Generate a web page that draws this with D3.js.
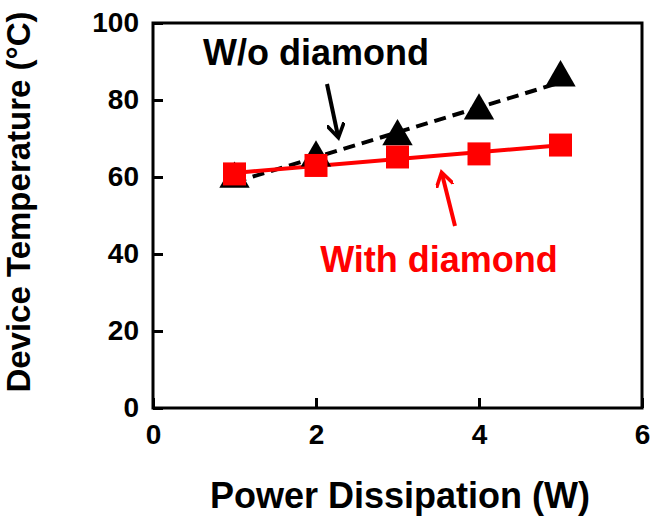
<!DOCTYPE html><html><head><meta charset="utf-8"><script src="https://cdn.jsdelivr.net/npm/d3@7"></script>
<style>body{margin:0;background:#fff}text{font-family:Arial,"Liberation Sans",sans-serif;font-weight:bold}</style></head><body>
<svg id="c" width="650" height="526"></svg>
<script>
const power=[1,2,3,4,5];
const withoutDiamond=[59.5,65,70.5,77.2,85.8];
const withDiamond=[60.8,63,65.2,66,68.3];
const xTicks=[0,2,4,6];
const yTicks=[0,20,40,60,80,100];
const svg=d3.select("#c");
const x=d3.scaleLinear().domain([0,6]).range([153,642]);
const y=d3.scaleLinear().domain([0,100]).range([408,23]);
svg.append("rect").attr("x",153).attr("y",23).attr("width",489).attr("height",385).attr("fill","none").attr("stroke","#000").attr("stroke-width",3);
svg.append("g").attr("transform","translate(0,408)").call(d3.axisBottom(x).tickValues(xTicks).tickFormat(d3.format("d")).tickSizeInner(-10).tickSizeOuter(0).tickPadding(16))
 .call(g=>{g.select(".domain").remove();g.selectAll("line").attr("stroke-width",3);g.selectAll("text").attr("font-size",28).attr("fill","#000");});
svg.append("g").attr("transform","translate(153,0)").call(d3.axisLeft(y).tickValues(yTicks).tickFormat(d3.format("d")).tickSizeInner(-10).tickSizeOuter(0).tickPadding(14))
 .call(g=>{g.select(".domain").remove();g.selectAll("line").attr("stroke-width",3);g.selectAll("text").attr("font-size",28).attr("fill","#000");});
function fit(v){const n=v.length,mx=d3.mean(power),my=d3.mean(v);let sxy=0,sxx=0;power.forEach((p,i)=>{sxy+=(p-mx)*(v[i]-my);sxx+=(p-mx)**2});const b=sxy/sxx;return [[power[0],my+b*(power[0]-mx)],[power[n-1],my+b*(power[n-1]-mx)]];}
const ln=d3.line().x(d=>x(d[0])).y(d=>y(d[1]));
svg.append("path").datum(fit(withoutDiamond)).attr("d",ln).attr("fill","none").attr("stroke","#000").attr("stroke-width",4).attr("stroke-dasharray","12,7");
svg.append("path").datum(fit(withDiamond)).attr("d",ln).attr("fill","none").attr("stroke","#f00").attr("stroke-width",4);
svg.selectAll(".tri").data(withoutDiamond).enter().append("path").attr("transform",(d,i)=>`translate(${x(power[i])},${y(d)})`).attr("d",d3.symbol(d3.symbolTriangle,400)()).attr("fill","#000");
svg.selectAll(".sq").data(withDiamond).enter().append("rect").attr("x",(d,i)=>x(power[i])-11.5).attr("y",d=>y(d)-11.5).attr("width",23).attr("height",23).attr("fill","#f00");
const defs=svg.append("defs");
[["k","#000"],["r","#f00"]].forEach(([id,c])=>defs.append("marker").attr("id",id).attr("viewBox","0 0 10 10").attr("refX",7).attr("refY",5).attr("markerWidth",4.5).attr("markerHeight",4.5).attr("orient","auto").append("path").attr("d","M0,0 L8,5 L0,10").attr("fill","none").attr("stroke",c).attr("stroke-width",2));
svg.append("line").attr("x1",327).attr("y1",84).attr("x2",338).attr("y2",136).attr("stroke","#000").attr("stroke-width",4).attr("marker-end","url(#k)");
svg.append("line").attr("x1",455).attr("y1",226).attr("x2",442).attr("y2",174).attr("stroke","#f00").attr("stroke-width",4).attr("marker-end","url(#r)");
svg.append("text").attr("x",316).attr("y",65).attr("text-anchor","middle").attr("font-size",36).text("W/o diamond");
svg.append("text").attr("x",439).attr("y",272).attr("text-anchor","middle").attr("font-size",36).attr("fill","#f00").text("With diamond");
svg.append("text").attr("x",400).attr("y",508).attr("text-anchor","middle").attr("font-size",36).text("Power Dissipation (W)");
svg.append("text").attr("transform","translate(30,202) rotate(-90)").attr("text-anchor","middle").attr("font-size",33).text("Device Temperature (°C)");
</script></body></html>
